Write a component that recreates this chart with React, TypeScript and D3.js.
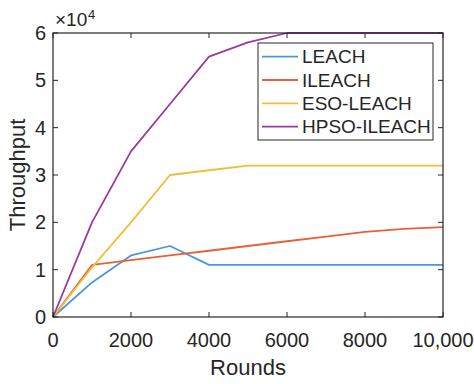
import React from "react";
import * as d3 from "d3";

const rounds = [0, 1000, 2000, 3000, 4000, 5000, 6000, 7000, 8000, 9000, 10000];
const leach = [0, 0.73, 1.3, 1.5, 1.1, 1.1, 1.1, 1.1, 1.1, 1.1, 1.1];
const ileach = [0, 1.1, 1.2, 1.3, 1.4, 1.5, 1.6, 1.7, 1.8, 1.86, 1.9];
const esoLeach = [0, 1.05, 2.0, 3.0, 3.1, 3.2, 3.2, 3.2, 3.2, 3.2, 3.2];
const hpsoIleach = [0, 2.0, 3.5, 4.5, 5.5, 5.8, 6.0, 6.0, 6.0, 6.0, 6.0];

const seriesNames = ["LEACH", "ILEACH", "ESO-LEACH", "HPSO-ILEACH"];
const seriesValues = [leach, ileach, esoLeach, hpsoIleach];
const seriesColors = ["#4a98d8", "#e8603a", "#f2be3a", "#9a3aa0"];

const xTicks = [0, 2000, 4000, 6000, 8000, 10000];
const xTickLabels = ["0", "2000", "4000", "6000", "8000", "10,000"];
const yTicks = [0, 1, 2, 3, 4, 5, 6];

export default function App() {
  const W = 474, H = 384;
  const L = 53, R = 443, T = 33, B = 317;
  const x = d3.scaleLinear().domain([0, 10000]).range([L, R]);
  const y = d3.scaleLinear().domain([0, 6]).range([B, T]);
  const line = d3.line<number>().x((_, i) => x(rounds[i])).y((d) => y(d));
  const font = "'Liberation Sans', Arial, Helvetica, sans-serif";
  const axisColor = "#262626";
  const tickLen = 5;

  return (
    <svg width={W} height={H} style={{ position: "absolute", left: 0, top: 0, fontFamily: font }}>
      <rect x={0} y={0} width={W} height={H} fill="#fff" />
      {seriesValues.map((vals, i) => (
        <path key={i} d={line(vals) || ""} fill="none" stroke={seriesColors[i]} strokeWidth={1.8} strokeLinejoin="round" />
      ))}
      <rect x={L} y={T} width={R - L} height={B - T} fill="none" stroke={axisColor} strokeWidth={1.2} />
      {xTicks.map((t, i) => (
        <g key={"x" + t}>
          <line x1={x(t)} x2={x(t)} y1={B} y2={B - tickLen} stroke={axisColor} />
          <line x1={x(t)} x2={x(t)} y1={T} y2={T + tickLen} stroke={axisColor} />
          <text x={x(t)} y={347} fontSize={20} textAnchor="middle" fill="#262626">{xTickLabels[i]}</text>
        </g>
      ))}
      {yTicks.map((t) => (
        <g key={"y" + t}>
          <line x1={L} x2={L + tickLen} y1={y(t)} y2={y(t)} stroke={axisColor} />
          <line x1={R} x2={R - tickLen} y1={y(t)} y2={y(t)} stroke={axisColor} />
          <text x={46} y={y(t)} dy="0.35em" fontSize={20} textAnchor="end" fill="#262626">{t}</text>
        </g>
      ))}
      <text x={55} y={26} fontSize={19} fill="#262626">×10</text>
      <text x={88} y={19} fontSize={13} fill="#262626">4</text>
      <text x={(L + R) / 2} y={375} fontSize={22} textAnchor="middle" fill="#262626">Rounds</text>
      <text transform={`translate(25,${(T + B) / 2}) rotate(-90)`} fontSize={22} textAnchor="middle" fill="#262626">Throughput</text>
      <rect x={258} y={43} width={175} height={97} fill="#fff" stroke={axisColor} strokeWidth={1} />
      {seriesNames.map((n, i) => {
        const cy = 56.7 + i * 23.3;
        return (
          <g key={n}>
            <line x1={262} x2={298} y1={cy} y2={cy} stroke={seriesColors[i]} strokeWidth={1.8} />
            <text x={302} y={cy} dy="0.35em" fontSize={19} fill="#262626">{n}</text>
          </g>
        );
      })}
    </svg>
  );
}
